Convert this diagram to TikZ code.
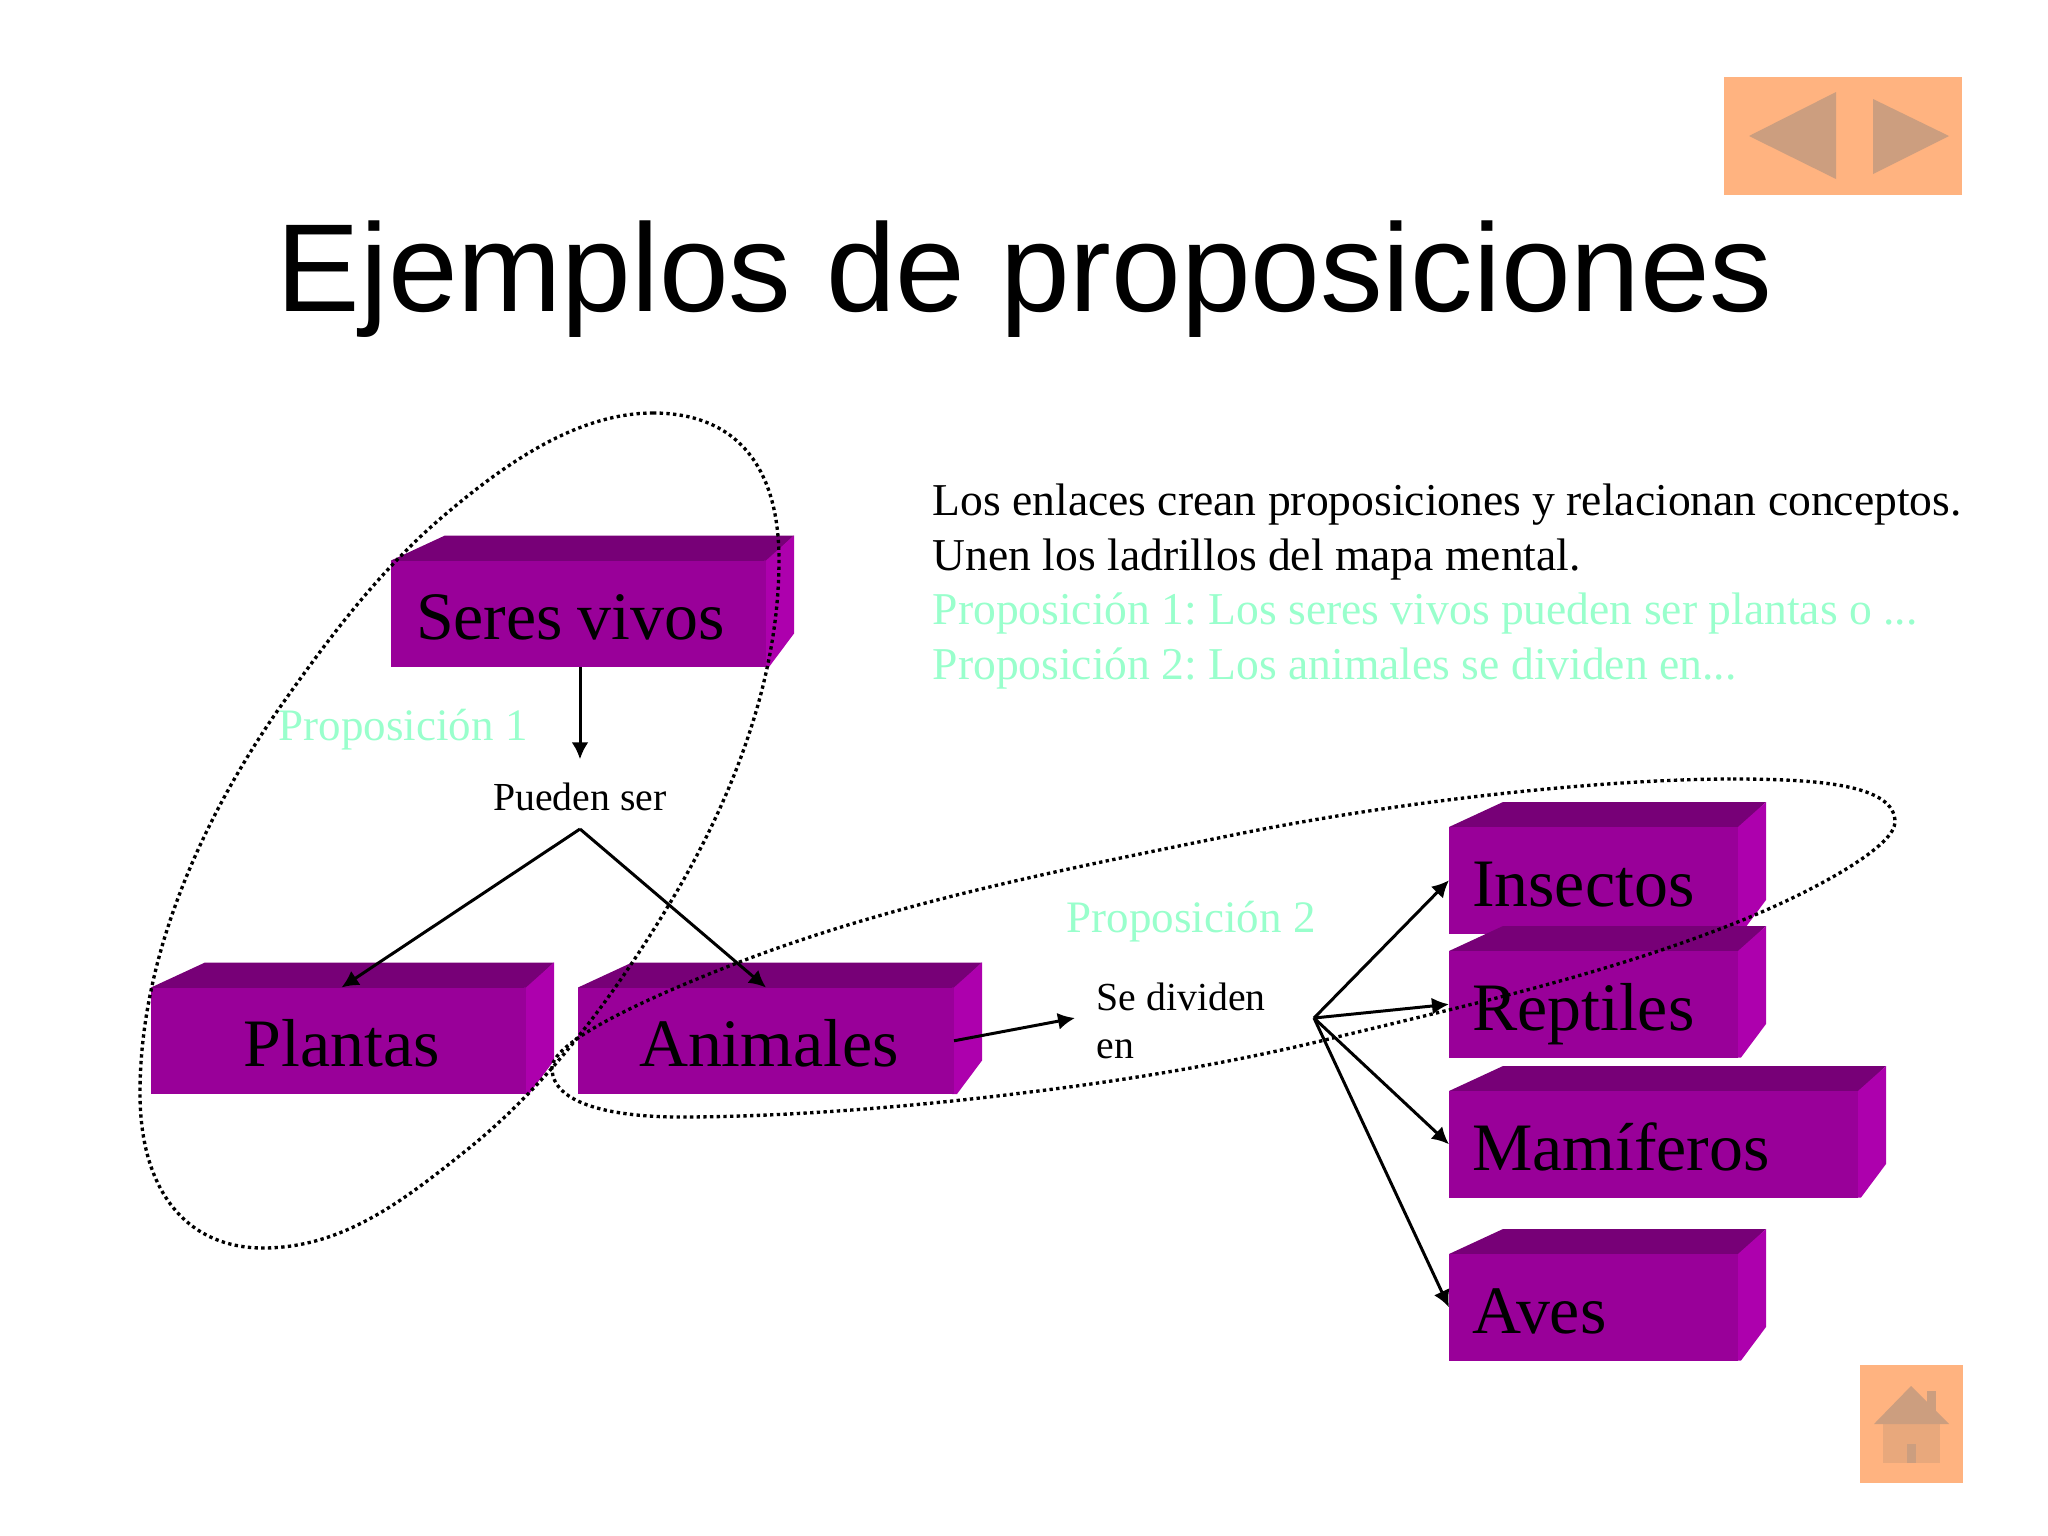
\documentclass[tikz,border=0pt]{standalone}
\usepackage{fontspec}
\setmainfont{Liberation Serif}
\newfontfamily\titulofont{Liberation Sans}
\usetikzlibrary{arrows.meta}
\definecolor{frente}{HTML}{990099}
\definecolor{techo}{HTML}{770077}
\definecolor{lado}{HTML}{AD00AD}
\definecolor{naranja}{HTML}{FFB380}
\definecolor{tostado}{HTML}{CC9E7F}
\definecolor{muro}{HTML}{E8A87C}
\definecolor{aguamarina}{HTML}{99FFCC}
\tikzset{>={Latex[length=0.17cm,width=0.17cm]}}
\tikzset{
	ladrillo/.style={fill=frente, anchor=north west, inner sep=0pt, outer sep=0pt, align=left, text height=0.79cm, text depth=0.275cm, font=\fontsize{19.3}{22}\selectfont},
	flecha/.style={->, line width=0.85pt},
	globo/.style={line width=0.95pt, dash pattern=on 0.95pt off 0.95pt},
	enlace/.style={font=\fontsize{11.3}{13.6}\selectfont},
	rotulo/.style={text=aguamarina, anchor=base west, inner sep=0pt, font=\fontsize{12.8}{15}\selectfont}
}
% name, x, y of the front face, its width, left margin, text
\newcommand{\ladrillobox}[6]{
	\fill[techo] ({#2},{#3+2}) -- (#2,#3) -- ({#2+54},{#3-25}) -- ({#2+#4+28},{#3-25}) -- ({#2+#4},{#3+2}) -- cycle;
	\fill[lado] ({#2+#4-2},#3) -- ({#2+#4},#3) -- ({#2+#4+28},{#3-25}) -- ({#2+#4+28},{#3+73}) -- ({#2+#4+3},{#3+106.5}) -- ({#2+#4-2},{#3+106.5}) -- cycle;
	\node (#1) [ladrillo, text width={#4*0.01cm}] at (#2,#3) {\hspace*{#5}#6};
}
\begin{document}
\begin{tikzpicture}[x=0.01cm,y=-0.01cm]
	\useasboundingbox (0,0) rectangle (2048,1536);
	\node (titulo) [anchor=base west, inner sep=0pt, font=\titulofont\fontsize{35.6}{40}\selectfont] at (276,311) {Ejemplos de proposiciones};

	% navigation buttons
	\fill[naranja] (1724,77) rectangle (1962,195);
	\fill[tostado] (1749,136) -- (1836,92) -- (1836,179) -- cycle;
	\fill[tostado] (1873,99) -- (1949,136) -- (1873,174) -- cycle;
	\fill[naranja] (1860,1365) rectangle (1963,1483);
	\fill[muro] (1883,1424) rectangle (1940,1463);
	\fill[tostado] (1927,1391) rectangle (1936,1415);
	\fill[tostado] (1911,1386) -- (1949,1424) -- (1874,1424) -- cycle;
	\fill[tostado] (1907,1444) rectangle (1916,1463);

	\node (texto) [anchor=north west, inner sep=0pt, align=left, font=\frenchspacing\fontsize{12.96}{15.55}\selectfont] at (932,483) {Los enlaces crean proposiciones y relacionan conceptos.\\Unen los ladrillos del mapa mental.\\\textcolor{aguamarina}{Proposición 1: Los seres vivos pueden ser plantas o ...}\\\textcolor{aguamarina}{Proposición 2: Los animales se dividen en...}};
	\node (rotuloa) [rotulo] at (278,740) {Proposición 1};
	\node (rotulob) [rotulo] at (1066,932) {Proposición 2};

	\ladrillobox{seres}{391}{560.5}{375}{0.25cm}{Seres\kern-0.12em\ vivos}
	\ladrillobox{plantas}{151}{987.5}{375}{0.925cm}{Plantas}
	\ladrillobox{animales}{578}{987.5}{376}{0.61cm}{Animales}
	\ladrillobox{insectos}{1449}{827}{289}{0.23cm}{Insectos}
	\ladrillobox{reptiles}{1449}{951}{289}{0.23cm}{Reptiles}
	\ladrillobox{mamiferos}{1449}{1091}{409}{0.23cm}{Mamíferos}
	\ladrillobox{aves}{1449}{1254}{289}{0.23cm}{Aves}

	\node (pueden) [enlace, minimum height=0.74cm, inner sep=0pt] at (580,797) {Pueden ser};
	\node (dividen) [enlace, anchor=west, inner sep=0.21cm, align=left] at (1075,1021) {Se dividen\\en};
	\coordinate (cruce) at (580,829);
	\coordinate (reparto) at (1314,1018);

	\draw[globo] (653,413) .. controls (735,413) and (779,465) .. (779,560)
		.. controls (779,680) and (732,800) .. (670,903)
		.. controls (614,996) and (548,1086) .. (463,1153)
		.. controls (404,1200) and (343,1248) .. (263,1248)
		.. controls (190,1248) and (140,1195) .. (140,1093)
		.. controls (140,958) and (201,821) .. (278,710)
		.. controls (328,639) and (380,569) .. (447,513)
		.. controls (505,464) and (577,413) .. (653,413) -- cycle;
	\draw[globo] (1733,779) .. controls (1820,779) and (1895,785) .. (1895,822)
		.. controls (1895,845) and (1824,886) .. (1750,917)
		.. controls (1617,972) and (1473,1004) .. (1333,1038)
		.. controls (1236,1062) and (1129,1080) .. (1030,1092)
		.. controls (920,1106) and (790,1117) .. (680,1117)
		.. controls (615,1117) and (552,1105) .. (552,1068)
		.. controls (552,1040) and (657,994) .. (737,963)
		.. controls (895,902) and (1066,869) .. (1233,835)
		.. controls (1400,801) and (1600,779) .. (1733,779) -- cycle;

	\draw[flecha] (pueden.north |- seres.south) -- (pueden.north);
	\draw[flecha] (cruce) -- ([xshift=0.03cm]plantas.north);
	\draw[flecha] (cruce) -- (animales.north);
	\draw[flecha] (animales.east) -- ([yshift=0.03cm]dividen.west);
	\foreach \destino in {insectos,reptiles,mamiferos,aves}
		\draw[flecha] (reparto) -- (\destino.west);
\end{tikzpicture}
\end{document}
